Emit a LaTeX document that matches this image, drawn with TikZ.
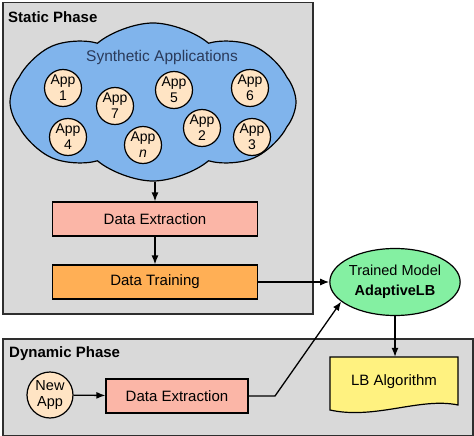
\documentclass[tikz,border=0pt]{standalone}
\usepackage{fontspec}
\setmainfont{Liberation Sans}
\usepackage{tikz}
\usetikzlibrary{shapes,arrows,arrows.meta,positioning}
\definecolor{phasegray}{HTML}{D9D9D9}
\definecolor{edgegray}{HTML}{2E2E2E}
\definecolor{cloudblue}{HTML}{80B4EC}
\definecolor{apppeach}{HTML}{FFE4C4}
\definecolor{extsalmon}{HTML}{FBB6A7}
\definecolor{trainorange}{HTML}{FFAF55}
\definecolor{modelgreen}{HTML}{84F0A2}
\definecolor{lbyellow}{HTML}{FFF280}
\definecolor{titleblue}{HTML}{2A3A5A}
\tikzset{
    phase/.style={draw=edgegray, fill=phasegray, line width=1.5pt, inner sep=0},
    phaselabel/.style={font=\fontsize{15}{17}\selectfont\bfseries, anchor=west, inner sep=0},
    appnode/.style={draw, circle, fill=apppeach, minimum size=37, inner sep=0, align=center,
        line width=1.2pt, font=\fontsize{14}{16}\selectfont},
    stepbox/.style={draw, line width=1.2pt, minimum width=205, minimum height=34, inner sep=0,
        font=\fontsize{15}{17}\selectfont},
    arrowline/.style={-{Latex[length=9pt,width=7pt]}, line width=1.3pt}
}
\begin{document}
\begin{tikzpicture}[x=1pt, y=-1pt]
    \useasboundingbox (0,0) rectangle (474,436);

    % Phases
    \node[phase, minimum width=310, minimum height=311, anchor=north west] (static) at (2,2) {};
    \node[phaselabel] (statictitle) at (8,17) {Static Phase};
    \node[phase, minimum width=470, minimum height=97, anchor=north west] (dynamic) at (2,338) {};
    \node[phaselabel] (dynamictitle) at (9,354) {Dynamic Phase};

    % Synthetic applications
    \node[cloud, draw, fill=cloudblue, line width=1.2pt, cloud puffs=8, cloud puff arc=80,
        aspect=2, minimum width=286, minimum height=158, inner sep=0] (apps) at (153,102) {};
    \node[font=\fontsize{15.5}{17}\selectfont, text=titleblue] (appstitle) at (162,57) {Synthetic Applications};
    \node[appnode] (app1) at (63,88) {App\\1};
    \node[appnode] (app7) at (115,106) {App\\7};
    \node[appnode] (app5) at (174,90) {App\\5};
    \node[appnode] (app6) at (250,88) {App\\6};
    \node[appnode] (app4) at (68,137) {App\\4};
    \node[appnode] (appn) at (143,145) {App\\\textit{n}};
    \node[appnode] (app2) at (202,128) {App\\2};
    \node[appnode] (app3) at (252,137) {App\\3};

    % Static steps
    \node[stepbox, fill=extsalmon] (ext1) at (155,219) {Data Extraction};
    \node[stepbox, fill=trainorange] (train) at (155,282) {Data Training};

    % Model
    \node[ellipse, draw, fill=modelgreen, line width=1.2pt, minimum width=114, minimum height=67,
        inner sep=0, align=center, font=\fontsize{14.5}{20}\selectfont] (model) at (395,282)
        {Trained Model\\\textbf{AdaptiveLB}};

    % Dynamic steps
    \node[appnode, minimum size=46, font=\fontsize{14.5}{16}\selectfont] (newapp) at (50,395) {New\\App};
    \node[stepbox, fill=extsalmon, minimum width=142] (ext2) at (177,396) {Data Extraction};
    \coordinate (bend) at (275,396);
    \draw[line width=1.2pt, fill=lbyellow] (330,357) -- (458,357) -- (458,405)
        .. controls (420,397) and (375,420) .. (330,410) -- cycle;
    \node[minimum width=128, minimum height=50, inner sep=0, font=\fontsize{15}{17}\selectfont] (lb) at (394,382) {LB Algorithm};

    % Connections
    \draw[arrowline] (ext1.north |- apps.south) -- (ext1.north);
    \draw[arrowline] (ext1) -- (train);
    \draw[arrowline] (train) -- (model);
    \draw[arrowline] (newapp) -- (ext2);
    \draw[arrowline] (ext2.east) -- (bend) -- (model.200);
    \draw[arrowline] (model.south) -- (model.south |- lb.north);
\end{tikzpicture}
\end{document}
